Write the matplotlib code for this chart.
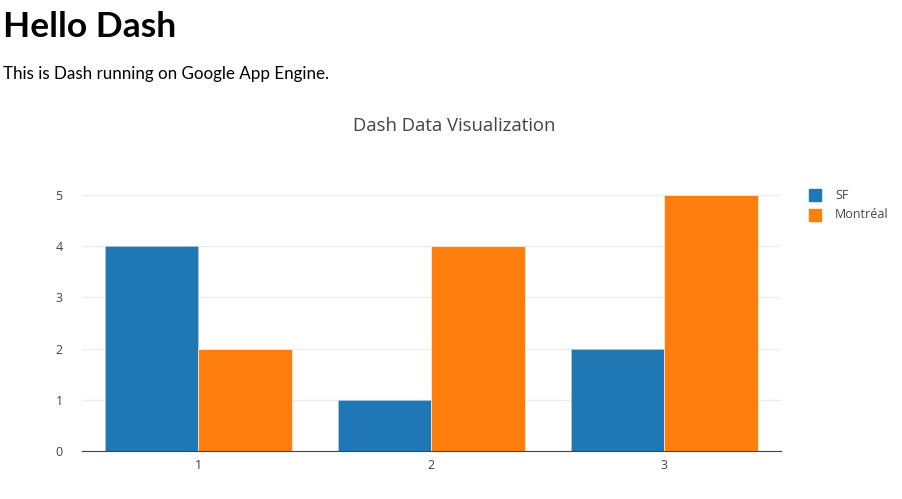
import numpy as np
import matplotlib.pyplot as plt

# Data
categories = [1, 2, 3]
sf = [4, 1, 2]
montreal = [2, 4, 5]
series_names = ['SF', 'Montréal']
colors = ['#1f77b4', '#ff7f0e']

W, H = 903, 499
fig = plt.figure(figsize=(W / 100, H / 100), dpi=100)
fig.patch.set_facecolor('white')

# page header
fig.text(3 / W, 1 - 27 / H, 'Hello Dash', fontsize=25.5, fontweight='bold',
         family=['Lato', 'DejaVu Sans'], va='center', ha='left', color='black')
fig.text(3 / W, 1 - 74 / H, 'This is Dash running on Google App Engine.', fontsize=12.25,
         family=['Lato', 'DejaVu Sans'], va='center', ha='left', color='black')

# plot area
x0, x1 = 82, 781
y0, y1 = 181.5, 451
ax = fig.add_axes([x0 / W, 1 - y1 / H, (x1 - x0) / W, (y1 - y0) / H])

x = np.array(categories)
bw = 0.4
ax.bar(x - bw / 2, sf, width=bw, color=colors[0], edgecolor='#b0c8de', linewidth=0.5, zorder=3)
ax.bar(x + bw / 2, montreal, width=bw, color=colors[1], edgecolor='#f5f5f5', linewidth=0.5, zorder=3)

ax.set_xlim(0.5, 3.5)
ax.set_ylim(0, 5.263)
ax.set_xticks(categories)
ax.set_yticks(range(6))
ax.grid(axis='y', color='#eeeeee', linewidth=1, zorder=0)
for s in ['top', 'right', 'left']:
    ax.spines[s].set_visible(False)
ax.spines['bottom'].set_color('#444444')
ax.spines['bottom'].set_zorder(4)
ax.tick_params(length=0, labelsize=9, labelcolor='#444444', pad=6)
for lab in ax.get_xticklabels() + ax.get_yticklabels():
    lab.set_family(['Open Sans', 'DejaVu Sans'])
ax.tick_params(axis='y', pad=14)

fig.text(454 / W, 1 - 126 / H, 'Dash Data Visualization', fontsize=13.3,
         family=['Open Sans', 'DejaVu Sans'], color='#444444', ha='center', va='center')

# legend drawn by hand in figure coords
for i, (name, c) in enumerate(zip(series_names, colors)):
    yy = 195 + 20 * i
    fig.patches.append(plt.Rectangle(((809) / W, 1 - (yy + 6) / H), 12 / W, 12 / H,
                                     transform=fig.transFigure, color=c, figure=fig))
    fig.text(835 / W, 1 - yy / H, name, fontsize=9, color='#444444',
             family=['Open Sans', 'DejaVu Sans'], va='center', ha='left')

fig.savefig('out.png', dpi=100)
